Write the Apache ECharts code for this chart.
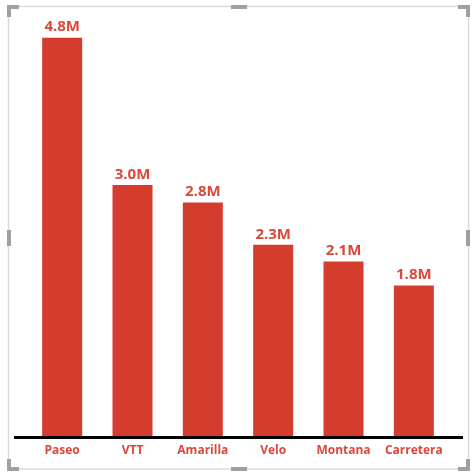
<!DOCTYPE html>
<html>
<head>
<meta charset="utf-8">
<script src="https://cdn.jsdelivr.net/npm/echarts@6/dist/echarts.min.js"></script>
<style>html,body{margin:0;padding:0;background:#fff}#c{width:474px;height:474px}</style>
</head>
<body>
<div id="c"></div>
<script>
var categories = ['Paseo', 'VTT', 'Amarilla', 'Velo', 'Montana', 'Carretera'];
var salesMillions = [4.80, 3.03, 2.82, 2.31, 2.11, 1.82];

var RED = '#D43C2E';
var LABEL_RED = '#D9483A';
var FRAME = '#d9d9d9';
var HANDLE = '#a0a0a0';

var chart = echarts.init(document.getElementById('c'), null, {renderer: 'canvas'});

function corner(x, y, dx, dy) {
  return [
    {type: 'rect', shape: {x: dx > 0 ? x : x - 12, y: dy > 0 ? y : y - 4, width: 12, height: 4}, style: {fill: HANDLE}, silent: true},
    {type: 'rect', shape: {x: dx > 0 ? x : x - 4, y: dy > 0 ? y : y - 12, width: 4, height: 12}, style: {fill: HANDLE}, silent: true}
  ];
}

var graphics = [
  {type: 'rect', shape: {x: 8.5, y: 6.5, width: 460, height: 462.5}, style: {fill: 'none', stroke: FRAME, lineWidth: 1.5}, silent: true, z: 0},
  {type: 'line', shape: {x1: 14, y1: 437.5, x2: 463, y2: 437.5}, style: {stroke: '#000', lineWidth: 3}, silent: true, z: 10},
  {type: 'rect', shape: {x: 231, y: 5, width: 16, height: 4}, style: {fill: HANDLE}, silent: true},
  {type: 'rect', shape: {x: 231, y: 467, width: 16, height: 4}, style: {fill: HANDLE}, silent: true},
  {type: 'rect', shape: {x: 7, y: 230, width: 4, height: 16}, style: {fill: HANDLE}, silent: true},
  {type: 'rect', shape: {x: 466, y: 230, width: 4, height: 16}, style: {fill: HANDLE}, silent: true}
].concat(corner(7, 5, 1, 1), corner(470, 5, -1, 1), corner(7, 471, 1, -1), corner(470, 471, -1, -1));

chart.setOption({
  animation: false,
  grid: {left: 27, right: 25, top: 21, bottom: 37, containLabel: false},
  xAxis: {
    type: 'category',
    data: categories,
    axisLine: {show: false},
    axisTick: {show: false},
    axisLabel: {interval: 0, hideOverlap: false, color: LABEL_RED, fontFamily: 'Open Sans', fontWeight: 'bold', fontSize: 12, margin: 8}
  },
  yAxis: {
    type: 'value',
    min: 0,
    max: 5,
    show: false,
    splitLine: {show: false}
  },
  series: [{
    type: 'bar',
    data: salesMillions,
    barWidth: 40,
    itemStyle: {color: RED},
    label: {
      show: true,
      position: 'top',
      distance: 3,
      color: LABEL_RED,
      fontFamily: 'Open Sans',
      fontWeight: 'bold',
      fontSize: 15,
      formatter: function (p) { return p.value.toFixed(1) + 'M'; }
    }
  }],
  graphic: graphics
});
</script>
</body>
</html>
